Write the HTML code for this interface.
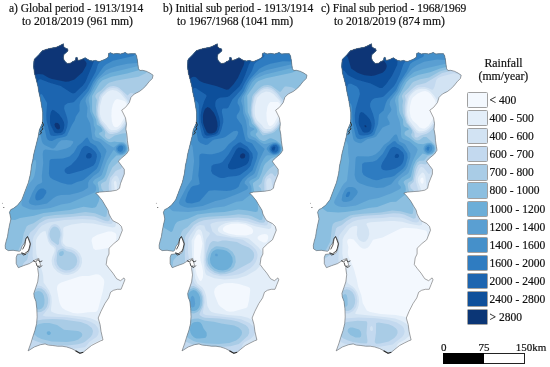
<!DOCTYPE html>
<html><head><meta charset="utf-8">
<style>
html,body{margin:0;padding:0;background:#fff;}
body{width:550px;height:367px;position:relative;overflow:hidden;font-family:"Liberation Serif",serif;color:#111;-webkit-text-stroke:0.2px #111;}
.t{position:absolute;font-size:11.8px;line-height:12px;white-space:nowrap;transform-origin:0 0;}
.lg{position:absolute;left:466.5px;width:21px;height:16.2px;border:1px solid #a0a0a0;border-radius:1.5px;box-sizing:border-box;}
.ll{position:absolute;left:489.6px;font-size:11.5px;line-height:14px;white-space:nowrap;transform-origin:0 0;}
.sb{position:absolute;font-size:11px;line-height:11px;white-space:nowrap;}
svg{position:absolute;left:0;top:0;}
</style></head><body>
<svg width="550" height="367" viewBox="0 0 550 367"><defs><path id="pt" d="M34.0,60.0 34.6,59.1 39.1,54.6 42.3,50.8 46.7,49.2 50.5,48.3 55.0,47.6 58.2,46.4 62.0,44.5 63.3,43.8 63.9,47.0 65.8,48.3 67.7,48.9 68.1,50.8 65.8,52.7 63.9,54.6 63.3,57.8 64.5,61.0 67.1,63.5 70.3,63.2 72.8,61.6 75.4,60.4 76.0,57.2 77.3,57.8 77.9,60.4 81.1,59.7 85.1,57.8 89.5,60.4 92.7,61.0 95.3,60.4 99.1,61.6 102.3,60.4 105.5,59.1 108.3,57.2 108.6,53.4 110.5,52.7 113.1,54.0 116.9,53.4 120.7,54.0 125.2,52.5 127.7,54.0 130.9,53.7 135.4,53.7 136.6,55.9 137.3,59.7 137.9,64.2 138.5,68.6 139.8,70.5 142.4,70.3 146.2,71.2 150.0,73.1 153.1,75.2 152.3,78.5 149.0,81.8 145.8,85.9 142.5,89.1 139.2,91.6 134.3,94.0 131.0,97.3 129.3,102.6 125.5,107.4 121.7,110.2 123.6,114.0 125.5,117.9 126.4,123.6 125.9,129.3 127.0,135.0 127.4,140.7 128.3,146.4 128.9,150.2 126.4,154.0 121.7,157.9 118.8,160.7 118.6,161.7 121.4,165.5 124.3,169.3 124.3,174.0 122.4,178.8 120.5,183.6 119.5,188.3 116.7,190.2 111.0,191.2 105.2,191.6 99.5,192.1 95.7,193.1 98.6,196.0 102.4,200.7 105.2,205.5 108.1,210.2 109.0,214.0 111.0,217.9 112.9,220.7 118.6,223.6 121.4,226.4 122.4,230.2 120.5,235.0 118.6,239.8 113.8,243.6 109.0,248.3 109.0,254.0 107.1,257.9 106.2,264.5 109.0,268.3 112.9,273.1 116.7,278.8 120.5,280.7 124.0,277.9 124.9,279.8 123.0,284.5 121.1,289.3 117.3,289.3 113.5,290.3 110.6,292.2 108.7,297.9 104.9,303.6 101.0,311.3 98.2,318.0 100.1,324.6 101.0,331.3 103.0,340.0 100.7,340.8 96.1,343.1 91.5,345.5 86.8,349.3 83.0,352.4 79.9,353.2 76.0,350.9 71.4,348.5 66.7,347.0 62.1,346.2 57.5,346.2 52.8,345.5 48.2,345.1 45.1,343.9 40.5,344.7 34.3,347.0 28.1,350.9 30.9,343.1 32.6,337.4 34.9,330.6 36.6,323.7 37.1,316.9 36.8,308.4 35.9,301.3 34.2,296.9 33.8,293.4 35.9,287.2 37.7,281.9 38.6,274.8 37.7,268.6 38.1,265.9 40.9,265.9 39.5,261.8 38.8,258.4 35.4,259.7 32.6,261.6 29.5,263.6 23.4,265.7 18.3,267.7 16.2,263.6 16.2,257.5 17.3,254.4 20.5,254.0 22.4,253.6 25.4,254.4 28.2,252.5 29.5,249.3 30.5,243.2 29.0,239.0 27.5,237.0 25.5,239.5 24.4,243.2 22.0,246.5 21.3,248.5 20.5,250.5 19.3,251.3 13.2,250.3 8.2,250.6 5.4,248.8 5.2,245.4 6.1,241.3 7.5,236.6 8.2,231.8 9.5,225.0 10.9,219.0 9.5,212.2 10.9,209.5 13.1,208.6 17.5,205.3 21.8,199.8 25.1,191.1 28.4,182.4 30.5,173.6 31.6,164.9 32.7,160.5 33.8,154.0 36.0,145.3 38.2,136.5 39.3,130.0 42.3,123.3 42.7,118.9 42.7,112.4 41.6,105.8 40.5,99.3 39.0,92.7 37.9,86.2 36.2,79.6 34.4,73.1 33.6,66.5Z"/><g id="mk" fill="none" stroke="#2a2a2a" stroke-width="0.8" stroke-linejoin="round"><path d="M27.5,236.4 L30.3,244 L29.2,248.4 L28.1,251.1 L24.3,253.8 L21.5,252.7 M22.6,249.4 L24.8,245.1 L25.4,241.8 L25.9,238.5 L27.5,236.4"/><path d="M21.5,253.2 L23.5,255 L26,254.2 M33,260.5 L35.5,262 L38,259.5 L40,262 L42.3,260.8 M36,262.5 L37,266 L40,267.5 L42,265.5"/><path d="M42.3,122 L43.5,125 L42,127.5 L43,129 L40.5,131 L41.5,133 L39.5,134.5" stroke-width="0.9"/><path d="M75.5,350.8 L79.9,353.2 L83.2,352.3" stroke-width="1.1"/><circle cx="2.4" cy="203.3" r="0.45" fill="#666" stroke="none"/><circle cx="3.8" cy="207.5" r="0.6" fill="#444" stroke="none"/></g><clipPath id="cp0"><use href="#pt" x="0"/></clipPath><clipPath id="cp1"><use href="#pt" x="153.9"/></clipPath><clipPath id="cp2"><use href="#pt" x="308.1"/></clipPath><filter id="bl" x="-5%" y="-5%" width="110%" height="110%"><feGaussianBlur stdDeviation="0.35"/></filter></defs><g filter="url(#bl)"><use href="#pt" x="0" fill="#f3f8fe"/><g clip-path="url(#cp0)"><path fill="#e3eef9" d="M160.0,357.0 -2.0,357.0 -2.0,37.9 160.1,38.0 160.0,191.5 151.0,191.5 150.5,191.0 148.5,191.0 148.0,190.5 146.0,190.5 145.5,190.0 140.5,189.0 140.0,193.5 139.5,194.0 139.5,197.0 140.5,197.0 142.0,198.0 145.5,198.0 146.0,197.5 160.0,197.5 160.0,357.0ZM117.6,127.0 120.5,124.3 125.0,116.7 126.5,111.9 127.0,107.0 126.5,103.7 125.0,101.6 123.0,100.5 117.0,99.1 114.8,100.5 112.8,104.5 111.7,109.5 111.4,116.0 111.9,121.5 113.2,125.5 115.0,127.2 117.6,127.0ZM99.8,249.5 112.0,247.3 114.0,246.0 115.3,243.0 116.4,237.5 116.3,234.5 115.4,233.0 111.8,231.5 108.1,231.5 97.5,234.7 92.7,237.5 91.8,239.0 91.6,241.0 93.3,248.5 95.5,249.9 99.8,249.5ZM83.2,313.0 88.0,312.2 95.4,312.0 97.0,311.2 98.0,309.5 103.0,290.5 104.3,282.5 104.0,280.0 103.2,278.5 100.5,275.6 98.5,274.4 96.0,274.3 89.0,276.1 82.5,276.0 79.5,276.6 61.2,282.5 58.7,284.0 57.3,286.0 56.9,289.0 59.2,301.5 60.5,305.3 62.3,308.0 65.4,310.0 73.0,313.0 77.5,313.4 83.2,313.0Z"/><path fill="#d2e3f3" d="M92.0,357.0 -2.0,357.0 -2.0,37.9 160.1,38.0 160.0,184.1 136.0,179.3 134.0,179.2 132.5,180.0 131.3,183.0 127.6,200.0 128.8,202.0 134.5,205.1 135.5,206.5 135.6,208.0 134.1,210.5 130.5,213.4 128.0,214.6 125.5,215.1 124.5,214.5 123.8,213.0 123.0,206.3 120.0,207.2 118.8,205.0 117.6,198.5 116.5,182.5 115.5,180.8 114.5,180.9 113.8,183.0 114.5,187.0 115.9,222.5 115.7,225.5 115.0,226.9 112.5,227.4 93.0,223.5 82.5,223.1 71.6,224.5 65.5,226.4 63.6,227.5 63.2,229.0 63.4,235.5 62.5,241.0 63.0,243.2 66.0,246.3 72.0,247.5 76.5,249.9 79.9,253.5 81.8,258.0 82.1,262.5 80.7,267.0 77.5,271.0 73.5,273.6 68.0,274.9 62.5,274.4 57.5,272.0 53.7,268.0 52.1,264.5 51.6,260.5 52.2,257.0 54.5,251.5 54.7,249.0 53.9,247.5 50.1,244.5 48.2,241.5 45.5,231.1 43.0,231.4 40.5,233.2 37.5,236.9 36.1,240.0 35.8,244.0 36.4,254.0 42.4,272.0 43.2,276.0 43.6,282.5 49.1,290.5 51.4,296.5 51.8,302.0 50.9,310.0 51.3,311.5 54.4,313.0 58.0,313.9 84.5,316.9 90.5,318.2 95.0,319.9 98.6,322.0 102.7,325.0 105.0,328.0 105.7,332.5 104.1,336.5 100.0,340.0 92.0,343.9 90.5,345.5 90.2,348.5 92.0,357.0ZM116.2,130.0 118.5,129.0 120.8,127.0 125.5,120.1 127.6,113.0 128.1,105.0 126.7,101.0 120.6,93.5 116.5,90.7 112.5,90.0 110.0,90.6 107.2,92.0 102.4,97.0 100.0,106.0 99.8,113.0 100.5,116.8 102.0,120.4 106.6,125.5 109.1,129.0 111.5,130.3 116.2,130.0Z"/><path fill="#c3d9ef" d="M34.0,357.0 -2.0,357.0 -2.1,38.0 160.0,37.9 160.0,182.6 137.5,178.0 133.0,176.5 131.8,174.0 132.6,162.5 132.0,159.5 130.0,162.9 123.5,181.5 121.5,185.4 120.5,185.0 118.6,178.0 117.0,175.8 115.5,175.8 114.0,176.7 111.7,180.0 111.3,182.5 111.7,196.5 112.9,220.0 112.7,222.5 112.0,223.7 110.0,224.1 103.5,223.1 95.0,220.1 91.0,219.5 82.5,219.1 64.5,220.0 48.5,222.5 42.0,225.5 39.0,228.4 33.7,236.5 32.7,240.0 32.6,256.0 35.1,267.5 33.1,273.5 34.0,282.5 35.0,284.7 41.5,286.2 46.0,289.4 49.0,294.5 50.0,300.0 49.7,304.5 48.5,308.0 42.6,315.5 45.5,316.4 66.5,317.2 85.5,319.9 91.0,322.0 95.2,324.5 98.0,328.0 98.9,331.5 98.2,334.5 96.5,337.0 89.5,341.8 86.0,346.3 84.5,347.2 76.0,348.6 66.5,349.2 44.0,348.0 40.2,349.5 35.1,353.0 34.2,354.0 34.0,357.0ZM114.7,132.0 117.5,131.2 120.0,129.7 123.1,126.5 125.5,123.0 128.3,115.0 129.4,104.5 128.4,101.0 121.7,92.0 117.0,88.6 112.5,87.9 109.5,88.5 106.8,90.0 103.5,92.9 101.1,96.0 98.7,105.0 98.3,112.0 99.0,116.5 100.6,121.0 107.5,130.1 110.5,132.2 114.7,132.0ZM129.0,212.1 127.0,211.7 126.5,208.5 127.2,205.5 128.0,204.7 129.5,204.3 132.7,205.5 133.9,207.5 132.5,209.9 129.0,212.1ZM70.0,272.6 65.0,272.8 60.5,271.3 56.9,268.5 54.6,264.5 54.0,259.5 55.5,254.2 56.3,248.0 55.0,246.1 51.9,244.0 50.0,241.8 48.5,238.5 48.0,235.0 48.3,231.5 49.3,228.5 51.0,225.8 53.0,224.4 55.0,224.1 57.5,225.1 59.5,227.1 60.9,229.5 61.9,234.0 61.0,241.5 61.7,245.5 66.0,248.5 71.0,249.4 74.3,251.0 77.1,253.5 79.2,257.0 79.8,262.0 78.4,266.5 75.0,270.3 70.0,272.6ZM14.7,309.0 15.9,307.0 20.5,303.1 22.2,300.5 22.5,298.5 22.0,295.5 21.0,293.5 20.0,292.9 18.0,293.1 16.0,294.5 13.4,298.5 12.0,305.4 11.0,307.5 14.5,309.5 14.7,309.0Z"/><path fill="#a9cce6" d="M0.0,298.0 -2.0,298.3 -2.1,38.0 160.0,38.0 160.0,107.8 157.5,106.8 148.5,100.6 146.0,100.3 144.5,101.4 138.5,117.5 130.1,143.0 129.6,149.5 128.8,152.5 125.5,157.5 121.5,168.0 120.5,169.0 117.5,170.0 115.5,171.2 110.0,178.0 108.7,185.5 110.2,216.5 109.6,220.5 108.0,221.3 105.5,221.1 94.5,216.6 83.5,215.7 49.0,218.7 45.5,219.7 39.5,223.2 34.0,229.3 30.2,232.5 28.6,235.5 28.2,238.5 28.9,246.5 28.0,256.4 27.0,259.9 23.8,263.0 22.7,265.0 22.3,280.5 21.5,287.9 16.5,290.6 10.3,295.0 0.0,298.0ZM112.5,134.0 117.0,132.9 119.5,131.7 122.7,129.0 125.2,126.0 128.2,120.0 131.0,110.2 135.6,102.5 137.4,97.0 136.5,94.7 132.0,93.0 130.0,93.3 127.5,95.5 119.0,87.7 116.0,86.4 113.5,86.0 110.0,86.6 107.0,88.0 100.3,94.5 99.0,97.5 97.2,110.0 97.8,116.0 100.4,123.0 108.0,133.0 110.0,134.1 112.5,134.0ZM160.0,180.8 137.5,176.1 136.0,175.5 135.0,174.2 136.4,161.5 136.2,155.0 137.2,148.0 140.8,124.5 141.7,122.5 143.0,121.6 145.0,121.7 160.0,126.1 160.0,180.8ZM130.5,209.6 129.0,209.8 128.4,209.0 128.5,207.0 129.5,206.0 131.0,206.1 132.0,207.0 131.8,208.5 130.5,209.6ZM57.5,245.0 51.5,240.4 49.7,236.5 49.5,233.5 50.4,230.0 52.0,227.7 54.0,226.6 56.0,226.7 58.0,228.0 59.4,230.0 60.3,232.5 60.4,235.5 59.2,240.0 59.1,243.5 58.5,244.5 57.5,245.0ZM70.0,270.0 66.0,270.4 62.5,269.6 59.4,267.5 57.3,264.5 56.5,261.0 57.2,252.5 58.2,250.5 60.5,249.0 63.0,248.5 66.5,251.0 72.0,252.5 74.7,254.5 76.5,257.2 77.3,261.0 76.3,265.0 73.9,268.0 70.0,270.0ZM41.0,312.1 37.5,312.3 33.9,310.5 31.2,307.0 29.6,302.0 29.6,297.0 31.1,293.0 34.0,289.7 38.0,288.1 41.5,288.6 44.5,290.7 47.0,294.5 48.1,298.5 48.1,303.0 46.8,307.0 44.5,310.0 41.0,312.1ZM67.5,345.5 51.0,344.7 41.5,343.1 35.5,341.1 30.5,338.4 26.9,335.0 25.5,331.5 26.2,328.0 29.4,323.5 34.4,321.0 42.5,319.6 52.5,319.1 63.0,319.5 80.7,322.0 87.4,324.5 91.9,328.0 93.0,331.0 92.3,334.5 90.6,337.0 85.0,341.8 82.5,343.1 78.0,344.3 67.5,345.5Z"/><path fill="#8cbfe0" d="M-1.5,259.0 -2.0,259.1 -2.1,38.0 160.0,38.0 160.0,57.5 156.6,59.5 150.9,65.0 149.0,67.5 146.2,73.0 138.5,76.7 116.8,80.5 109.7,82.5 107.3,84.0 101.0,90.6 97.0,93.2 95.4,95.5 95.4,97.0 96.9,100.0 96.0,106.5 96.2,114.5 99.0,123.0 103.2,128.0 104.8,131.0 105.4,133.0 104.8,135.5 105.4,137.0 107.5,138.8 109.5,139.0 114.7,135.5 122.5,133.4 126.0,133.2 126.3,135.0 125.6,141.0 127.9,145.5 128.4,148.0 128.1,151.0 126.7,153.5 124.5,155.4 120.6,157.5 118.0,162.2 112.4,167.5 106.0,181.0 102.0,183.1 100.9,184.5 101.5,188.6 105.0,193.3 105.9,196.5 107.1,211.5 106.5,216.5 104.5,217.0 95.0,213.3 85.5,212.1 72.0,214.0 55.0,214.9 43.5,216.7 33.5,223.2 28.5,225.1 26.6,226.5 23.7,233.5 22.0,242.5 18.5,249.9 15.9,252.0 14.0,254.3 -1.5,259.0ZM160.0,160.2 141.5,158.2 140.0,157.8 138.9,156.5 139.0,151.3 140.5,145.3 142.5,142.7 149.5,136.5 150.0,135.0 151.0,135.5 160.0,135.5 160.0,160.2ZM62.0,256.0 60.0,256.0 59.2,255.0 58.9,253.5 60.0,251.8 62.5,250.9 63.5,251.5 63.9,253.0 63.5,254.6 62.0,256.0ZM39.5,309.5 36.5,309.2 34.3,307.5 32.5,304.6 31.7,301.0 31.9,297.5 33.0,294.5 35.2,292.0 38.0,290.9 40.5,291.4 42.4,293.0 43.7,295.5 44.5,299.5 44.4,303.5 43.5,306.4 41.7,308.5 39.5,309.5ZM67.0,342.0 51.5,341.5 41.5,339.1 37.3,337.0 34.3,334.5 33.0,332.0 33.1,329.0 35.5,326.0 39.0,324.1 44.0,323.1 49.5,323.1 57.1,325.0 64.0,329.7 78.0,330.9 80.5,331.9 82.0,333.5 82.3,335.0 81.8,336.5 78.4,339.5 74.2,341.0 67.0,342.0Z"/><path fill="#6caed8" d="M15.0,220.1 7.5,219.5 -2.0,216.1 -2.1,38.0 160.0,38.0 160.0,53.6 157.1,55.0 146.7,63.0 140.5,69.8 127.0,73.5 111.5,76.7 102.5,80.2 99.5,83.3 92.1,96.0 92.1,109.0 92.5,112.0 96.2,119.5 96.8,124.5 100.7,127.0 102.6,130.0 102.2,131.5 99.1,133.0 99.4,134.5 105.5,140.1 109.0,142.1 111.0,142.3 114.5,141.4 117.0,142.1 121.5,141.9 124.0,142.6 126.5,145.0 127.6,148.5 126.9,151.5 125.0,153.9 122.0,155.3 116.4,155.5 111.5,160.5 108.7,165.0 106.0,174.0 104.4,177.5 103.0,179.0 98.0,182.0 97.7,183.5 98.9,188.5 99.6,197.0 98.7,201.5 96.3,206.5 95.0,207.5 92.0,208.0 83.5,206.8 70.0,210.1 43.5,213.1 34.0,215.7 20.0,217.9 15.0,220.1ZM49.5,335.1 48.0,335.0 46.7,333.5 46.9,332.0 48.0,331.2 49.5,331.2 50.8,332.5 50.7,334.0 49.5,335.1Z"/><path fill="#5a9fd2" d="M39.0,209.5 33.0,209.8 29.5,209.2 22.9,206.5 21.9,205.5 21.4,204.0 21.9,201.0 27.8,186.5 29.7,183.0 33.3,178.5 34.5,175.5 36.0,167.0 36.1,162.0 35.5,159.7 34.5,159.9 33.0,162.3 22.1,187.5 19.5,192.5 17.5,194.9 15.5,195.7 11.5,195.2 7.0,195.6 1.5,192.7 -2.0,192.0 -2.0,183.8 0.1,182.0 3.5,180.8 12.5,181.0 14.7,179.5 15.5,176.9 17.9,157.5 17.0,153.1 14.2,147.0 13.5,144.1 12.5,143.0 11.0,143.0 7.5,141.5 -2.0,141.5 -2.0,38.0 160.0,38.0 160.0,52.1 157.5,53.1 148.0,60.2 138.3,66.0 110.5,72.8 104.5,75.4 100.1,78.5 98.0,80.8 89.0,97.5 88.7,100.5 89.8,106.0 90.1,111.5 93.4,119.5 93.9,125.5 95.5,129.0 94.6,133.5 95.5,136.5 96.7,137.5 101.0,139.0 107.5,144.1 113.5,147.4 119.0,143.5 121.5,143.1 124.0,143.8 125.8,145.5 126.6,147.5 126.6,150.0 125.6,152.0 123.1,154.0 120.0,154.4 117.0,153.2 114.0,150.1 113.0,150.7 107.0,160.4 101.7,175.0 100.1,176.5 95.0,179.2 93.1,181.5 93.1,183.0 95.5,185.5 96.2,187.5 96.0,190.4 94.5,192.4 70.0,203.0 61.0,204.5 50.5,208.0 39.0,209.5Z"/><path fill="#4590ca" d="M39.5,205.0 35.5,205.4 32.0,204.8 29.5,203.4 28.7,201.5 32.2,193.0 35.5,186.9 37.5,184.7 41.4,183.0 42.2,182.0 41.8,176.0 43.2,163.0 42.7,154.0 43.2,151.0 44.0,150.0 45.5,149.4 57.0,150.8 66.5,148.6 70.5,146.4 73.0,143.0 73.3,141.5 72.0,140.7 66.5,140.0 61.5,140.3 58.9,142.0 55.0,147.5 53.5,148.5 52.0,148.6 45.0,145.2 42.9,143.5 41.8,141.0 40.0,132.5 39.5,131.4 38.5,131.2 36.0,135.7 25.0,163.7 23.0,167.4 22.0,168.1 21.5,167.6 21.1,164.0 21.5,154.5 23.4,137.0 22.8,131.0 21.5,129.8 12.5,126.2 -2.0,124.0 -2.0,38.0 160.0,38.0 160.0,50.6 157.0,51.7 147.9,58.5 142.9,61.0 137.0,62.9 127.5,63.7 117.0,66.1 111.0,68.0 106.0,70.3 96.7,79.5 93.3,85.0 90.6,91.5 86.4,97.5 85.4,101.0 87.5,107.7 86.8,116.5 90.2,123.5 92.3,138.5 94.0,140.3 98.5,141.6 100.5,142.8 106.0,149.5 106.5,151.5 100.0,170.5 98.5,172.5 93.5,175.9 89.2,180.5 88.1,183.0 88.2,187.0 87.7,188.0 83.0,191.0 78.0,192.8 69.5,194.7 61.0,195.0 57.0,195.9 53.5,197.9 47.0,203.4 39.5,205.0ZM122.5,153.2 120.5,153.5 118.7,153.0 117.0,151.6 116.2,150.0 116.1,148.0 116.7,146.5 119.5,144.4 123.0,144.4 124.5,145.5 125.3,147.0 125.6,149.0 125.0,150.9 122.5,153.2Z"/><path fill="#2f7cc1" d="M27.0,141.6 26.5,141.4 26.2,140.0 25.6,130.0 22.2,125.5 25.0,122.1 26.0,119.5 26.9,112.0 26.0,109.2 23.0,108.8 -2.0,112.7 -2.0,38.0 144.0,38.0 142.4,42.0 135.2,54.0 133.5,56.0 113.0,60.8 106.0,64.5 103.7,66.5 93.2,81.5 88.9,90.5 80.6,101.0 79.5,105.0 79.6,111.0 75.9,116.5 74.7,120.5 72.0,124.8 67.0,135.5 65.0,136.7 57.0,138.4 52.0,141.0 49.5,140.7 47.5,139.5 46.5,137.5 44.0,125.5 42.8,111.0 42.0,108.9 41.0,108.5 39.0,111.3 31.0,133.7 28.5,139.5 27.0,141.6ZM71.5,184.6 67.5,184.5 61.0,182.8 53.1,179.5 50.5,177.7 49.4,176.0 48.9,173.5 49.5,160.8 50.3,159.5 51.5,159.0 63.0,158.6 69.5,156.6 73.9,152.5 77.6,146.0 82.0,142.4 86.0,137.9 87.5,137.4 90.2,142.5 96.0,145.9 100.7,153.5 101.2,156.5 99.6,162.0 98.0,166.5 96.5,168.9 84.5,179.3 82.5,180.6 77.0,182.1 71.5,184.6ZM120.5,152.0 118.1,151.0 117.3,148.5 118.9,146.0 121.5,145.4 123.0,146.4 123.4,148.0 122.4,151.0 120.5,152.0ZM40.0,200.1 37.0,200.4 35.6,199.5 35.2,197.5 35.5,195.0 37.0,191.8 39.0,189.4 41.0,188.4 43.5,188.5 46.2,190.5 46.3,193.0 43.2,198.0 40.0,200.1Z"/><path fill="#1d65b0" d="M54.0,136.0 51.0,135.6 49.9,134.0 46.5,120.5 46.2,115.5 47.1,103.0 42.0,94.2 40.5,94.2 39.0,96.5 33.5,111.8 31.0,116.3 30.5,116.2 30.2,115.0 29.4,106.0 30.1,95.0 29.5,93.0 28.5,92.0 26.0,91.5 20.5,91.6 -2.0,94.8 -2.0,38.0 94.1,38.0 95.5,52.1 97.0,53.6 103.3,56.0 104.0,57.0 103.8,58.0 98.1,64.0 95.6,72.0 86.5,88.8 74.0,101.9 72.5,102.5 67.5,103.2 64.5,105.5 64.1,108.5 67.1,117.5 67.9,122.0 67.2,127.0 65.0,133.0 62.0,135.0 54.0,136.0ZM69.5,174.0 67.5,173.9 65.5,172.8 64.5,171.1 64.7,169.5 65.9,168.0 71.0,165.1 76.5,159.2 78.6,156.0 81.6,149.0 83.5,146.7 85.5,145.7 87.5,146.1 91.5,148.3 95.5,152.0 96.8,154.5 96.9,157.0 95.5,162.5 93.5,165.4 89.5,167.6 82.1,170.5 69.5,174.0Z"/><path fill="#0f509b" d="M75.0,93.1 73.0,93.4 71.0,92.7 60.7,86.0 49.5,82.8 40.5,79.2 39.0,79.5 38.0,80.8 36.0,88.3 34.5,91.0 33.8,90.5 33.2,88.5 32.7,82.5 32.0,81.6 31.0,81.3 7.5,90.0 -2.0,92.6 -2.0,38.0 91.7,38.0 92.9,56.0 94.3,59.5 94.1,61.0 85.5,82.1 82.9,85.5 75.0,93.1ZM60.5,133.0 57.0,133.3 54.3,132.5 50.5,125.0 49.9,122.0 50.1,115.0 51.1,111.5 52.5,109.8 54.5,110.4 59.0,114.3 62.0,118.2 63.9,122.0 64.4,125.0 63.8,129.0 62.5,131.8 60.5,133.0ZM90.0,158.6 87.5,158.6 86.0,157.3 86.2,155.0 88.0,152.9 90.2,153.0 91.8,154.5 91.6,157.0 90.0,158.6Z"/><path fill="#0b3676" d="M-1.5,88.6 -2.0,88.6 -2.0,38.0 86.5,38.0 85.5,47.0 82.0,51.5 80.7,55.0 81.6,57.0 86.1,62.0 86.6,63.5 86.3,65.5 82.5,72.3 74.5,79.4 69.0,81.5 65.5,81.7 51.9,79.0 48.5,77.7 43.0,74.4 38.5,74.1 29.0,76.7 -1.5,88.6ZM59.0,129.6 57.0,129.2 55.0,126.8 54.4,124.5 55.5,122.8 58.0,123.1 59.7,125.0 60.2,128.0 59.0,129.6Z"/></g><use href="#pt" x="0" fill="none" stroke="#6a6a6a" stroke-width="0.6"/><use href="#mk" x="0"/><use href="#pt" x="153.9" fill="#f3f8fe"/><g clip-path="url(#cp1)"><path fill="#e3eef9" d="M313.9,357.0 151.9,357.0 151.9,37.9 314.0,38.0 313.9,357.0ZM270.7,126.0 272.4,125.1 274.4,122.8 279.4,113.2 280.3,109.0 280.3,105.5 279.4,103.1 277.9,102.0 270.4,102.1 268.9,103.5 267.4,106.8 266.4,113.5 266.8,120.5 268.4,125.0 269.4,125.8 270.7,126.0ZM246.2,235.5 251.7,234.0 252.9,232.6 253.2,231.0 252.5,229.0 251.2,227.5 245.4,224.6 238.4,223.4 231.4,223.8 226.0,225.5 223.9,227.0 222.9,228.5 222.9,230.0 223.9,231.4 228.2,233.5 236.9,235.2 246.2,235.5ZM201.6,280.5 202.9,277.5 203.2,273.0 202.4,267.5 200.6,261.0 200.2,257.0 202.4,243.5 200.9,236.3 199.9,234.7 198.9,234.2 197.9,234.5 196.4,235.9 194.3,240.5 193.8,256.0 195.4,268.4 196.9,275.1 199.4,280.3 200.4,280.9 201.6,280.5ZM266.1,242.5 267.4,240.8 268.2,238.0 268.1,236.0 267.0,234.5 264.9,234.0 261.9,234.5 259.3,235.5 257.6,237.0 257.7,239.0 259.4,240.5 263.4,242.5 266.1,242.5ZM233.6,311.5 245.9,308.0 247.4,306.9 249.1,300.0 250.2,290.5 249.9,288.0 248.4,286.9 238.9,284.1 232.4,283.0 224.4,283.3 217.9,285.5 214.9,288.5 214.1,292.0 214.8,295.5 218.5,304.5 220.3,306.5 226.5,311.0 229.9,311.8 233.6,311.5Z"/><path fill="#d2e3f3" d="M247.9,357.0 151.9,357.0 151.9,37.9 314.0,38.0 313.9,184.9 290.4,180.1 288.4,180.2 287.4,180.9 286.4,183.6 283.5,200.0 284.5,202.0 289.8,205.5 290.4,207.0 290.4,208.5 288.2,211.5 280.4,217.5 277.4,228.8 275.9,231.8 275.1,229.5 274.4,221.5 273.9,220.1 272.9,219.4 272.2,221.0 271.2,227.5 270.4,228.5 268.9,229.0 255.9,226.4 245.9,222.9 237.4,221.8 231.4,222.1 225.4,223.2 221.4,224.9 218.8,227.0 217.8,229.0 218.1,231.0 219.5,232.5 222.5,234.0 231.4,236.4 245.4,237.7 248.9,238.7 258.2,247.0 261.5,251.0 262.6,254.0 262.6,258.0 261.7,262.0 259.9,266.0 255.9,270.3 246.4,275.8 237.4,278.4 224.4,279.4 214.4,278.3 206.9,275.2 205.9,274.3 205.0,272.0 203.5,262.5 203.9,245.0 203.4,238.5 201.9,232.1 200.4,229.7 198.4,229.3 196.4,230.9 191.5,240.5 192.1,256.0 195.2,278.5 197.4,283.5 202.4,287.5 204.6,291.0 206.2,296.0 207.4,305.9 209.8,310.5 211.6,312.0 214.9,313.0 227.4,315.0 240.9,316.1 247.9,317.7 257.4,322.4 260.8,325.0 262.7,327.5 263.6,330.0 264.0,334.0 263.6,336.0 262.6,337.5 257.4,341.6 247.5,346.0 246.5,347.0 246.4,349.0 247.9,357.0ZM270.8,129.0 274.7,126.0 279.4,118.7 281.3,111.5 281.6,105.0 279.9,101.0 273.4,94.1 269.9,91.9 265.9,91.5 261.2,93.5 256.9,98.0 254.8,106.5 254.7,113.5 255.4,116.9 256.8,120.0 261.8,125.0 263.9,128.1 265.9,129.0 270.8,129.0Z"/><path fill="#c3d9ef" d="M243.4,357.0 151.9,357.0 151.9,37.9 314.0,38.0 313.9,183.3 289.4,178.3 283.4,177.7 281.4,180.3 276.4,192.9 274.9,195.1 273.9,194.3 273.4,192.8 271.3,179.5 269.9,177.9 267.9,178.5 266.8,180.0 266.2,182.5 268.1,221.0 267.8,224.0 266.9,225.3 264.9,225.4 255.9,223.9 246.4,220.9 237.4,220.1 217.4,221.8 212.4,222.9 210.6,224.0 210.4,225.0 212.4,231.5 216.9,235.6 242.9,239.7 251.9,245.7 255.7,249.5 257.0,252.0 257.6,255.0 257.1,258.5 255.7,262.0 253.7,265.0 250.7,268.0 243.4,272.6 238.9,274.2 232.1,275.5 225.9,276.3 220.9,276.3 213.4,274.4 209.9,272.4 206.9,269.9 205.4,266.8 204.6,261.0 205.5,243.0 206.4,239.1 209.3,235.0 209.9,233.0 205.9,230.2 204.3,225.5 199.9,225.0 196.4,226.6 190.0,235.5 188.2,239.5 188.0,253.0 188.9,257.9 191.4,265.5 192.2,278.5 194.6,283.5 202.0,290.5 204.3,296.5 204.7,302.5 202.9,312.0 203.4,314.0 205.9,315.1 232.4,317.7 240.9,319.2 249.5,323.0 252.3,325.5 254.4,328.5 255.0,332.5 253.5,336.0 250.4,339.0 244.2,342.5 242.4,345.0 241.9,348.5 243.4,357.0ZM266.5,131.5 269.9,131.0 272.4,130.0 275.3,127.5 278.1,124.0 281.4,116.4 282.7,107.0 281.9,102.0 276.9,94.5 271.9,90.1 267.4,88.7 264.4,89.1 261.4,90.4 255.9,95.8 254.8,98.0 253.4,104.0 252.7,110.0 253.3,116.0 255.4,121.4 262.8,130.5 264.4,131.3 266.5,131.5ZM282.9,213.0 280.4,213.0 279.4,210.5 280.2,205.0 280.9,204.0 282.4,203.5 286.9,205.0 288.1,206.0 288.6,207.5 287.2,210.0 282.9,213.0ZM173.9,299.5 174.9,298.0 174.7,296.0 173.9,294.6 172.4,294.3 170.6,295.5 169.9,297.5 171.4,299.1 173.9,299.5Z"/><path fill="#a9cce6" d="M219.4,347.0 209.9,346.7 193.9,345.0 183.4,340.8 179.9,338.5 177.3,336.0 175.5,332.0 175.5,329.5 176.3,327.5 181.9,320.7 187.3,318.0 188.6,315.5 187.8,313.5 181.9,306.3 179.4,304.3 178.1,297.0 176.8,293.5 175.6,292.0 173.9,291.4 172.4,291.7 164.4,297.6 151.9,300.8 151.8,38.0 313.9,38.0 313.9,181.9 290.9,177.1 287.7,175.5 287.2,173.0 290.2,142.0 289.9,138.7 288.9,139.7 286.9,144.5 277.9,171.4 275.9,176.0 274.9,176.5 272.4,173.6 270.4,173.4 266.4,176.4 264.7,179.5 264.3,183.0 264.5,197.5 265.6,218.5 264.9,222.1 263.4,222.8 259.4,222.4 248.4,218.4 238.4,217.5 215.4,218.8 203.9,220.3 198.9,221.9 193.9,225.0 186.1,235.0 185.1,237.0 184.8,255.5 185.2,264.0 184.7,265.5 182.5,268.5 182.1,270.5 183.5,288.0 183.9,289.1 184.9,289.2 190.9,286.3 193.9,285.9 198.2,288.5 201.3,292.0 203.1,297.0 203.4,302.5 202.5,307.5 199.6,313.5 199.5,315.0 202.4,316.9 204.9,317.8 218.9,318.6 231.0,320.0 237.9,321.4 245.6,325.0 247.7,327.0 249.1,329.5 249.2,333.0 247.8,336.0 238.9,344.1 230.4,346.2 219.4,347.0ZM267.0,133.0 270.9,132.1 273.4,130.8 276.9,127.6 279.4,124.1 282.2,117.5 284.4,104.8 285.9,101.0 285.4,100.0 283.4,100.1 282.4,99.4 277.9,93.5 273.8,89.5 270.9,87.8 267.4,87.0 263.9,87.5 260.9,89.0 254.9,95.0 253.7,97.5 252.3,104.0 251.7,110.5 252.4,116.5 254.9,122.8 262.4,132.2 264.4,133.1 267.0,133.0ZM283.4,211.1 282.4,211.2 281.6,210.5 281.2,208.0 281.9,205.9 283.9,205.1 286.2,206.0 287.1,207.5 285.9,209.5 283.4,211.1ZM226.4,274.1 220.4,274.4 214.9,273.0 209.9,269.8 206.7,265.5 205.7,260.0 206.4,253.6 209.4,244.4 210.8,242.5 212.4,241.3 213.9,240.9 217.9,241.7 222.4,240.6 225.9,240.4 236.9,241.9 242.6,245.0 248.9,247.5 252.0,250.0 253.7,252.5 254.2,255.0 253.8,258.0 252.4,260.5 250.4,262.5 232.6,272.0 226.4,274.1Z"/><path fill="#8cbfe0" d="M171.4,270.4 169.9,268.9 166.8,260.0 165.4,258.8 163.4,258.8 151.9,261.7 151.8,38.0 313.9,38.0 313.9,105.1 310.9,103.5 302.9,97.5 301.9,96.0 301.2,91.0 300.4,89.6 297.4,89.9 291.9,87.2 286.9,86.4 284.9,86.6 283.9,87.4 280.9,91.5 279.9,92.1 271.4,85.8 267.9,85.1 263.9,85.6 261.4,86.8 258.4,89.1 253.6,94.0 252.2,96.5 250.7,107.5 251.1,115.5 253.8,123.0 257.9,128.0 261.1,133.5 262.9,135.4 271.9,133.3 274.4,131.9 277.6,129.0 281.2,124.0 284.9,115.2 290.4,105.9 293.4,101.8 293.6,102.5 291.9,110.5 282.2,142.0 283.1,148.0 282.3,152.0 280.9,154.5 277.3,158.5 273.9,165.5 269.4,168.8 267.1,171.5 263.1,177.5 261.4,183.2 258.3,186.0 260.9,188.6 261.9,192.4 262.9,215.0 262.4,219.2 261.4,220.0 259.7,220.0 251.9,216.3 248.4,215.2 238.9,214.2 228.9,215.5 208.4,216.7 200.9,217.7 197.9,218.8 191.9,222.6 187.6,227.0 183.4,229.5 181.6,232.0 180.1,237.0 180.4,245.5 178.9,252.5 177.4,256.1 174.0,259.5 173.2,261.0 172.4,267.5 171.4,270.4ZM313.9,179.2 293.4,175.0 290.9,173.5 292.3,162.5 291.0,156.0 291.4,151.7 293.8,141.0 295.9,126.4 296.5,124.5 297.4,123.4 299.9,123.5 313.9,127.5 313.9,179.2ZM284.4,208.5 283.4,208.4 283.9,207.0 284.9,207.5 284.4,208.5ZM224.4,272.6 219.4,272.5 214.4,270.7 210.4,267.6 208.0,263.5 207.4,259.0 208.6,254.5 211.1,249.5 214.9,246.7 216.9,246.3 223.4,247.0 227.9,248.4 232.4,251.8 235.2,256.5 235.8,262.0 234.0,267.0 229.9,270.7 224.4,272.6ZM193.9,313.5 190.9,312.9 187.2,309.0 185.1,305.0 184.2,300.0 184.9,295.5 186.8,292.0 190.1,289.0 193.4,287.9 196.4,288.9 199.9,292.4 201.5,296.0 202.2,300.5 201.7,305.5 200.0,309.5 197.4,312.1 193.9,313.5ZM218.9,344.0 206.4,343.4 196.4,342.1 193.4,341.1 187.3,337.5 184.4,334.9 182.8,331.5 183.3,328.0 184.6,326.0 191.4,319.6 193.9,318.7 198.4,318.5 204.9,320.8 213.9,321.8 221.4,323.6 234.2,325.5 238.6,327.5 241.4,330.2 242.1,332.5 241.5,335.0 239.3,338.0 236.1,340.5 229.3,343.0 218.9,344.0Z"/><path fill="#6caed8" d="M170.9,232.0 164.4,228.1 160.1,222.5 151.9,219.0 151.8,38.0 313.9,38.0 313.9,54.4 311.4,55.6 301.3,63.5 299.0,66.0 296.4,70.7 291.9,72.8 265.9,78.3 258.4,81.0 256.0,83.0 247.2,95.5 247.7,112.0 250.7,119.0 251.9,123.5 255.8,127.5 257.3,130.0 257.5,132.0 255.7,134.0 256.2,135.5 259.4,139.2 262.9,141.0 264.9,140.9 269.9,138.3 271.9,138.6 275.9,140.3 280.4,143.7 281.5,145.5 282.1,148.0 281.6,151.5 279.4,154.6 277.4,156.0 271.0,158.5 265.4,163.4 263.8,166.0 261.4,173.5 258.9,178.8 253.0,183.0 252.9,184.5 254.1,191.0 257.7,203.5 258.1,209.0 257.5,211.5 255.4,212.1 245.9,210.2 238.4,209.5 224.4,211.9 210.9,212.7 197.4,214.4 187.9,218.8 179.4,220.9 177.0,222.0 175.0,224.5 172.8,230.5 171.9,231.7 170.9,232.0ZM222.9,270.5 218.4,270.0 215.0,268.5 212.1,266.0 210.4,263.0 209.9,259.0 211.2,253.5 212.9,251.2 215.9,249.4 217.9,249.2 222.9,249.8 226.4,250.8 230.0,253.5 232.4,257.5 232.8,262.0 231.0,266.5 227.4,269.4 222.9,270.5ZM194.4,311.1 191.9,311.0 189.4,309.0 187.0,304.5 186.2,300.5 186.6,297.0 188.3,293.5 190.9,290.9 193.4,290.0 195.9,290.8 198.4,293.5 199.9,297.0 200.4,300.5 200.1,304.5 199.0,307.5 196.9,309.9 194.4,311.1ZM199.4,338.5 196.4,338.4 193.9,337.2 191.7,335.0 190.4,332.5 189.9,329.5 190.6,326.0 191.9,323.6 193.9,322.3 197.9,321.8 200.4,322.6 201.9,324.5 203.6,328.5 206.6,332.5 206.8,335.5 205.9,337.4 204.4,338.0 199.4,338.5Z"/><path fill="#5a9fd2" d="M188.4,212.0 173.4,211.2 171.9,210.5 168.9,207.8 163.4,206.8 154.2,202.5 151.9,201.9 151.8,38.0 313.9,38.0 313.9,52.8 310.9,54.1 292.9,67.8 264.4,74.7 255.9,78.5 252.3,82.0 244.4,96.5 244.0,99.5 244.8,110.5 245.6,113.5 248.7,119.5 249.0,125.0 250.4,127.0 253.4,128.0 254.4,129.0 254.3,129.5 250.8,131.5 250.2,133.0 250.5,135.0 251.5,136.0 255.4,138.0 260.9,142.4 263.9,143.9 265.9,144.0 272.9,142.0 276.9,142.3 280.3,145.0 281.4,148.5 280.6,152.0 277.9,154.8 273.9,155.6 267.4,155.2 265.9,156.0 263.9,158.5 261.0,164.0 256.9,176.2 255.4,177.7 250.9,180.0 249.4,181.5 249.2,182.5 251.0,186.0 251.5,188.5 251.4,192.4 250.6,194.5 242.4,201.0 236.4,201.7 224.4,206.4 213.9,207.8 204.9,210.0 188.4,212.0ZM217.4,256.2 215.9,256.3 215.1,255.5 215.1,254.5 215.9,253.6 217.5,254.0 217.8,255.5 217.4,256.2ZM192.9,307.6 191.4,307.0 190.6,306.0 189.8,302.0 190.9,297.2 191.9,295.9 192.9,295.7 194.4,298.0 195.2,303.5 194.5,306.5 192.9,307.6Z"/><path fill="#4590ca" d="M192.4,207.5 187.9,207.7 184.4,207.1 180.1,205.0 178.8,203.0 179.5,200.5 186.6,187.0 191.9,179.5 194.1,161.0 192.6,147.0 192.0,145.0 190.9,144.5 189.4,146.4 176.4,178.0 173.9,182.2 172.4,182.7 172.0,180.5 172.2,172.5 174.0,152.0 175.9,138.5 175.4,134.0 173.4,131.6 166.4,128.1 151.9,125.8 151.9,38.0 313.9,38.0 313.9,51.5 310.9,52.7 300.4,60.4 291.9,64.3 266.9,70.1 259.4,72.9 253.4,77.8 251.4,80.0 248.1,85.5 245.5,91.5 241.9,97.0 241.1,101.0 242.6,106.0 243.3,113.5 246.0,121.0 247.3,129.0 247.1,133.5 247.7,137.0 249.4,138.8 255.4,140.8 264.7,149.0 259.4,160.1 254.8,173.0 253.4,174.6 247.8,178.0 244.8,181.5 244.6,183.5 247.8,186.5 247.9,188.5 246.4,189.8 237.9,193.8 224.4,199.0 215.4,201.0 202.6,206.0 192.4,207.5ZM275.9,154.6 273.4,154.7 270.9,153.8 268.7,152.0 266.5,149.0 267.2,147.5 269.5,145.0 273.4,143.0 275.9,143.0 277.9,143.8 279.7,145.5 280.6,147.5 280.6,150.0 279.8,152.0 278.4,153.5 275.9,154.6Z"/><path fill="#2f7cc1" d="M191.9,203.5 186.9,203.0 185.5,201.5 185.4,200.0 187.9,192.5 190.9,187.5 192.9,186.0 197.9,185.1 199.7,184.0 198.3,175.5 199.3,164.5 199.3,156.0 199.9,154.2 201.9,153.4 208.4,154.3 212.4,154.2 218.4,152.8 222.4,151.0 224.9,149.0 228.9,144.0 235.1,139.0 237.7,134.5 238.3,132.0 236.9,130.8 233.4,131.2 225.3,137.0 222.6,138.0 214.4,139.4 212.4,140.5 207.9,144.6 205.4,144.9 200.4,143.0 198.0,140.5 195.2,124.5 194.4,122.2 193.4,121.9 191.1,126.0 180.4,154.0 178.4,157.5 177.4,157.5 176.9,152.0 178.3,136.0 178.2,132.0 177.7,130.0 176.4,128.9 171.8,127.0 166.9,124.1 151.9,121.9 151.9,38.0 313.9,38.0 313.9,49.7 310.9,50.7 300.2,58.5 291.5,61.5 282.9,61.2 270.4,63.7 264.9,65.8 259.4,68.7 249.6,79.5 246.1,85.5 243.9,91.1 238.0,99.5 237.5,103.0 239.4,106.5 239.9,109.5 239.3,111.5 236.7,115.5 236.7,118.0 241.9,125.2 245.4,140.0 246.4,141.2 251.4,143.0 252.6,144.0 257.4,151.9 257.8,153.5 256.9,158.5 252.4,170.5 242.7,179.0 240.6,182.0 238.4,187.0 235.4,189.0 230.9,190.5 226.5,191.0 214.9,190.3 208.9,190.7 199.4,201.5 191.9,203.5ZM276.4,153.6 274.4,153.9 272.4,153.4 270.5,152.0 269.4,150.0 269.3,148.5 270.0,146.5 271.4,145.0 273.4,144.0 275.4,143.8 277.4,144.4 278.9,145.8 279.7,147.5 279.4,151.0 278.3,152.5 276.4,153.6Z"/><path fill="#1d65b0" d="M206.9,138.6 203.7,138.0 201.9,135.1 198.8,121.5 198.9,105.0 198.2,103.0 196.4,100.9 194.4,100.3 192.9,102.1 185.4,122.8 183.4,127.0 181.9,127.9 180.7,125.5 181.9,120.5 182.6,112.0 181.6,105.0 182.5,97.0 181.8,94.5 179.9,93.7 175.4,93.5 151.9,96.2 151.9,38.0 250.1,38.0 251.9,50.0 257.0,52.5 262.9,54.1 264.6,55.5 263.9,57.0 256.4,62.0 254.4,64.0 251.9,71.0 244.7,83.0 241.9,89.0 232.4,99.5 228.4,107.6 226.9,108.6 223.4,108.4 222.2,109.0 221.8,111.5 223.3,119.0 223.3,122.0 221.6,129.0 219.6,134.0 216.9,135.8 206.9,138.6ZM223.9,178.0 221.4,178.1 218.9,177.5 212.6,174.0 211.1,171.0 211.5,166.0 213.4,164.4 219.9,163.2 222.4,161.9 228.4,154.5 233.0,147.0 238.4,142.8 240.4,142.2 247.4,146.8 252.4,153.5 252.9,157.5 250.7,165.5 247.4,169.5 239.9,175.0 236.4,176.1 228.4,176.8 223.9,178.0ZM275.9,152.5 272.8,152.5 270.6,150.0 270.9,147.0 273.4,145.0 276.4,145.0 278.4,147.5 278.1,150.5 275.9,152.5Z"/><path fill="#0f509b" d="M210.9,135.5 206.9,135.7 204.8,134.5 200.9,122.0 200.6,115.5 201.5,109.5 204.2,101.0 206.4,96.5 206.4,95.5 205.6,94.5 195.9,88.3 193.9,88.1 191.9,90.8 187.9,101.4 186.4,102.8 185.4,92.0 183.4,86.3 182.4,85.3 166.7,90.0 151.9,93.5 151.9,38.0 246.6,38.0 247.9,53.0 248.9,55.1 251.9,57.7 252.0,59.5 248.9,64.5 245.4,74.5 241.9,82.5 239.4,86.4 229.4,96.1 227.4,96.9 219.9,97.8 217.4,98.9 216.0,100.5 215.3,103.0 215.3,106.0 219.2,117.5 220.1,122.0 220.0,125.5 218.7,130.5 217.4,133.0 215.1,134.5 210.9,135.5ZM274.4,150.6 272.9,150.7 271.9,149.0 272.4,147.3 273.9,146.4 274.9,146.6 275.4,147.5 274.4,150.6ZM235.4,169.1 231.9,169.5 229.4,169.0 228.0,167.5 228.0,165.0 236.4,149.2 238.4,147.5 240.9,147.4 244.9,149.3 248.8,153.0 249.6,156.0 249.0,160.5 247.9,163.0 245.9,164.9 240.4,167.5 235.4,169.1Z"/><path fill="#0b3676" d="M154.4,91.0 151.9,91.5 151.9,38.0 244.5,38.0 245.3,52.5 244.7,54.0 242.5,56.0 242.2,57.0 244.5,61.0 244.0,64.5 237.9,77.9 233.4,84.5 228.6,89.5 226.4,89.8 216.9,86.2 203.4,82.8 199.7,81.0 195.9,77.3 193.9,76.7 191.9,77.3 189.4,79.7 185.9,79.3 183.4,79.8 154.4,91.0ZM211.9,133.5 208.9,133.4 206.9,132.2 204.4,127.0 203.1,123.0 202.9,116.0 203.4,113.0 204.9,108.9 207.4,107.0 209.9,107.9 213.9,112.7 215.9,117.0 217.4,122.5 217.6,126.5 216.6,130.5 214.9,132.5 211.9,133.5ZM243.4,158.6 241.3,158.5 239.8,157.0 240.4,154.5 242.4,153.2 244.1,153.5 245.3,155.0 244.9,157.4 243.4,158.6Z"/></g><use href="#pt" x="153.9" fill="none" stroke="#6a6a6a" stroke-width="0.6"/><use href="#mk" x="153.9"/><use href="#pt" x="308.1" fill="#f3f8fe"/><g clip-path="url(#cp2)"><path fill="#e3eef9" d="M468.1,357.0 306.1,357.0 306.1,37.9 468.2,38.0 468.1,185.4 445.1,180.8 443.1,180.8 442.1,181.6 438.6,200.0 439.2,201.5 444.4,205.0 445.3,206.5 445.4,208.5 443.6,211.4 436.0,218.0 431.9,236.5 430.0,242.0 429.1,247.8 428.1,250.7 427.1,251.8 426.6,249.0 427.3,235.0 426.8,231.5 425.6,230.4 416.4,228.5 404.6,227.8 400.7,228.5 382.6,237.5 373.1,239.8 369.4,246.0 367.6,247.7 365.1,248.7 362.6,248.5 360.1,247.1 353.6,239.4 350.1,238.8 348.6,239.1 347.6,240.0 347.1,242.0 348.4,247.0 347.8,252.5 348.2,255.5 353.8,268.5 356.8,279.5 358.1,286.5 361.3,295.0 362.7,303.0 366.8,310.5 370.1,312.0 380.6,314.1 395.6,315.0 403.6,316.5 411.1,319.0 416.1,322.4 431.6,328.5 468.1,328.7 468.1,357.0ZM424.9,128.5 428.6,125.7 433.1,118.8 435.1,112.5 435.9,104.0 435.1,100.6 431.1,94.6 428.1,91.9 425.1,91.0 422.3,91.5 417.6,93.6 412.6,97.7 411.6,99.7 410.1,105.6 409.6,110.5 410.6,116.9 412.6,120.4 416.6,123.9 419.6,127.5 422.6,128.6 424.9,128.5ZM422.9,183.5 423.6,182.0 423.6,180.0 423.1,178.1 422.1,177.4 420.6,178.6 420.2,181.0 421.1,183.1 422.1,183.7 422.9,183.5Z"/><path fill="#d2e3f3" d="M397.6,357.0 306.1,357.0 306.1,37.9 468.2,38.0 468.1,183.4 443.6,178.3 438.1,178.3 437.0,179.0 435.6,181.4 430.1,194.7 428.6,195.9 427.1,191.2 425.3,176.0 423.8,173.0 422.1,172.5 418.6,176.5 417.7,179.5 418.2,182.5 420.9,189.0 422.4,221.0 422.3,223.5 421.6,225.1 419.1,225.6 409.1,223.8 402.1,221.7 394.2,221.0 389.1,220.9 370.6,222.2 367.4,223.0 366.3,224.0 368.8,229.5 369.3,234.0 368.1,238.5 365.6,241.5 363.6,242.0 361.6,241.5 359.6,240.3 358.1,238.6 356.8,234.5 357.4,227.0 356.6,225.8 352.6,226.6 349.5,228.5 344.1,236.0 342.6,239.5 342.3,253.5 343.1,258.0 347.1,270.5 347.2,273.0 346.3,277.5 346.8,281.5 348.1,283.5 352.6,286.4 355.1,289.0 357.3,292.5 358.7,297.0 359.1,301.0 358.7,305.0 357.7,308.5 355.3,313.0 355.5,314.0 386.6,317.2 395.1,318.6 400.6,320.5 404.5,322.5 408.0,325.5 410.2,328.5 410.7,332.5 409.1,336.0 405.3,339.5 398.6,343.1 396.8,345.5 396.3,348.5 397.9,356.0 398.0,357.0 397.6,357.0ZM423.8,131.0 426.4,130.0 428.9,128.0 431.9,124.5 433.9,121.0 436.2,113.5 437.5,101.5 436.8,99.5 434.0,95.5 429.9,91.0 426.1,89.0 421.6,88.7 418.6,89.2 415.6,90.5 412.6,93.0 410.0,96.0 408.9,98.5 407.6,104.5 407.0,112.0 407.6,116.1 409.2,120.5 416.6,130.0 419.1,131.4 423.8,131.0ZM437.1,213.1 434.6,213.2 433.5,211.0 434.0,205.5 434.9,204.0 436.1,203.4 440.6,204.6 442.1,205.7 442.8,207.0 442.6,208.5 441.6,209.9 437.1,213.1ZM328.4,299.0 329.0,297.5 328.6,295.5 327.6,294.4 326.1,294.6 324.6,296.0 324.5,298.0 326.6,299.3 328.4,299.0Z"/><path fill="#c3d9ef" d="M348.6,313.6 344.1,313.3 341.6,311.9 339.6,310.0 337.7,307.0 336.3,303.5 335.1,295.9 333.6,295.9 331.3,292.5 329.6,291.2 327.6,291.0 325.6,291.7 318.1,297.2 306.1,300.2 306.0,38.0 468.1,38.0 468.1,110.5 465.1,109.6 458.1,104.5 456.1,104.0 455.0,105.5 452.1,117.0 452.6,118.5 455.1,120.0 468.1,123.9 468.1,181.7 445.6,177.0 443.1,176.1 442.0,175.0 441.8,173.0 443.3,161.0 443.4,155.0 445.6,138.0 445.6,133.5 445.1,132.5 442.1,138.7 438.3,151.5 430.1,173.5 428.6,173.9 423.6,167.8 421.1,166.7 419.4,168.5 416.1,176.5 415.7,179.0 416.1,182.5 418.3,190.0 419.4,218.0 419.2,220.5 418.6,221.8 416.6,222.4 412.6,221.9 404.6,218.5 401.1,217.6 390.6,217.0 382.6,218.0 368.6,218.5 357.6,219.9 353.1,221.6 346.9,225.5 339.8,234.5 338.9,236.5 338.4,262.5 337.7,264.5 335.5,267.0 334.9,270.0 336.1,293.4 342.1,288.1 344.6,287.1 347.6,286.9 350.6,287.8 353.1,289.6 355.1,292.1 356.6,295.5 357.4,301.5 356.1,307.0 353.1,311.1 348.6,313.6ZM422.4,133.0 425.9,132.0 428.6,130.3 431.8,127.0 434.2,123.5 436.8,116.5 438.6,107.3 442.1,102.7 443.6,99.5 444.0,97.0 443.7,93.5 444.1,92.2 445.3,91.5 454.6,89.5 457.6,87.4 460.0,84.5 461.1,82.0 461.2,79.0 460.2,76.0 458.6,74.3 453.6,73.2 440.6,76.7 437.4,78.5 436.3,80.0 434.6,86.4 433.1,89.5 432.1,89.7 428.1,87.9 424.6,87.0 418.6,87.2 413.6,89.9 408.5,95.5 407.4,98.5 405.8,109.0 406.0,114.5 407.6,120.1 409.1,123.0 416.6,132.5 419.1,133.4 422.4,133.0ZM438.1,210.6 436.6,210.8 435.7,209.0 436.0,206.5 437.6,205.3 440.1,206.0 441.0,207.5 440.3,209.0 438.1,210.6ZM381.6,346.5 375.1,346.8 371.1,345.5 367.6,346.7 363.6,346.6 349.6,344.9 344.1,343.4 337.1,340.2 332.4,336.5 330.2,332.5 330.5,328.5 331.9,326.0 335.0,322.5 338.6,319.9 344.1,318.5 358.6,317.6 375.6,318.3 388.8,320.0 396.8,322.5 402.3,326.0 404.0,328.5 404.7,331.5 403.9,334.5 402.1,337.0 392.6,344.5 381.6,346.5ZM372.3,331.0 373.0,329.5 372.7,327.5 372.1,326.2 371.1,325.9 370.1,327.5 370.1,330.0 371.1,331.0 372.3,331.0Z"/><path fill="#a9cce6" d="M307.6,260.1 306.1,260.2 306.0,38.0 468.1,38.0 468.1,61.7 466.1,62.9 462.1,67.6 459.6,69.0 455.6,69.0 452.1,70.8 442.1,73.1 425.6,83.0 416.6,85.3 413.6,87.5 405.0,95.5 405.7,99.5 404.6,106.5 404.9,115.0 407.3,122.5 412.9,130.0 414.5,133.5 414.6,136.5 415.6,137.5 417.6,137.5 420.7,135.5 426.6,133.7 429.1,132.3 433.8,128.0 439.1,120.4 440.1,119.8 440.3,120.5 439.1,127.1 435.1,141.0 436.9,147.5 436.2,152.0 434.1,154.8 429.8,158.0 428.1,162.0 426.6,164.1 425.6,164.4 421.1,163.8 419.6,164.2 418.1,165.3 416.1,169.7 413.6,181.8 410.1,185.0 410.6,187.9 414.1,191.0 415.0,193.5 416.2,213.5 415.6,218.1 413.6,218.7 404.1,214.6 399.1,213.5 393.6,213.2 380.6,214.8 364.1,215.7 352.6,217.4 346.6,221.0 341.6,225.2 337.6,227.0 336.1,228.4 334.7,234.5 334.5,245.5 332.3,251.5 330.0,255.0 324.1,259.1 320.6,257.6 318.6,257.4 307.6,260.1ZM468.1,161.9 449.1,159.8 447.6,159.3 446.2,157.5 445.9,154.5 447.0,147.5 449.0,141.0 451.4,126.5 452.6,124.8 454.1,124.8 468.1,128.7 468.1,161.9ZM348.1,311.0 345.1,310.7 342.1,308.8 340.0,305.5 338.9,301.0 339.3,296.5 340.8,293.0 343.6,290.3 346.6,289.3 349.6,289.9 352.3,292.0 354.1,295.0 355.2,299.5 354.9,303.5 353.6,307.0 351.1,309.7 348.1,311.0ZM366.1,343.6 360.6,343.3 352.9,342.0 348.1,340.6 343.4,338.5 339.9,336.0 338.0,333.5 337.3,330.5 338.2,327.5 341.6,324.2 347.1,322.0 357.6,320.7 366.6,321.2 367.3,323.0 366.5,333.0 367.5,341.0 367.1,342.9 366.1,343.6ZM380.1,343.5 376.1,343.7 374.7,342.0 376.0,332.5 376.1,322.9 378.6,322.6 388.6,324.3 392.8,326.0 396.1,328.5 397.4,330.5 397.6,333.0 396.5,335.5 394.3,338.0 388.8,341.5 380.1,343.5Z"/><path fill="#8cbfe0" d="M307.6,256.6 306.1,256.7 306.0,38.0 468.1,38.0 468.1,55.0 465.6,56.2 450.6,68.4 440.1,71.3 429.1,77.4 420.1,79.2 413.6,81.7 412.0,83.0 408.6,87.8 403.8,92.5 401.8,96.0 403.1,101.0 402.4,105.0 402.8,112.5 406.3,123.0 410.6,127.9 412.0,130.5 412.2,132.5 411.1,134.5 411.7,136.5 414.6,139.4 417.1,140.4 419.6,139.9 423.4,137.0 426.4,137.0 434.1,143.8 435.4,146.0 435.9,148.0 435.4,151.5 433.1,154.3 427.4,156.5 424.1,160.4 419.6,160.8 417.1,162.6 414.6,168.0 412.6,179.6 411.6,180.9 409.1,182.1 407.8,183.5 407.8,186.0 408.8,190.5 411.6,196.4 412.6,200.2 413.5,209.5 412.8,213.5 412.1,214.1 410.6,214.0 400.6,211.2 392.1,210.5 380.6,212.5 362.6,213.7 353.6,214.7 350.1,215.6 341.6,220.5 335.1,222.3 332.9,224.0 332.0,227.0 330.3,241.5 326.1,249.5 319.7,254.0 307.6,256.6ZM468.1,157.6 449.9,155.5 449.1,155.0 448.8,154.0 449.6,148.5 450.4,147.5 451.6,147.2 468.1,149.8 468.1,157.6ZM346.1,306.7 344.6,306.5 343.1,305.4 342.0,303.5 341.4,301.0 342.2,296.5 343.6,294.7 345.1,294.1 346.7,295.0 347.5,298.5 347.7,304.5 347.1,306.0 346.1,306.7ZM359.6,337.6 355.6,337.6 350.3,335.0 347.8,332.0 347.6,330.5 348.1,329.0 350.1,327.6 352.6,327.4 359.1,329.6 360.7,331.5 361.3,334.0 361.0,336.5 359.6,337.6Z"/><path fill="#6caed8" d="M345.1,212.0 338.6,212.4 327.1,211.7 322.5,208.5 317.6,207.2 306.1,202.2 306.1,38.0 468.1,38.0 468.1,52.8 465.4,54.0 448.1,66.5 440.1,68.6 430.1,72.3 418.1,75.0 410.1,78.6 406.6,82.1 398.7,96.5 398.3,99.5 399.0,110.5 399.9,113.5 403.0,119.5 403.3,125.0 404.6,126.8 408.0,128.0 408.8,129.0 408.6,129.8 406.1,130.8 404.8,132.0 404.5,133.5 404.9,135.0 409.6,137.9 415.1,142.3 418.1,143.8 423.1,144.3 427.6,142.7 431.1,142.8 434.1,145.4 435.1,148.5 434.4,151.5 432.1,153.9 427.6,155.0 422.6,153.5 416.0,160.5 413.4,166.0 410.9,176.5 409.6,177.9 405.4,180.0 403.8,181.5 403.6,182.5 405.3,186.0 405.8,189.0 405.6,193.0 404.7,195.0 396.1,201.8 390.6,202.1 377.2,207.0 368.6,208.0 359.6,210.1 345.1,212.0Z"/><path fill="#5a9fd2" d="M345.6,207.0 341.6,207.1 338.1,206.2 335.1,204.5 334.0,202.5 334.6,200.5 341.9,186.5 343.6,184.0 346.4,181.5 347.1,180.0 349.2,161.0 348.1,152.5 348.2,146.0 347.1,142.5 346.6,141.5 345.6,141.0 344.1,142.8 332.1,172.5 329.6,177.4 328.1,178.7 327.3,177.0 327.1,171.5 328.6,152.5 330.5,138.0 329.9,133.0 328.1,131.0 320.6,127.6 306.1,125.3 306.1,38.0 468.1,38.0 468.1,51.3 465.1,52.4 454.6,60.1 446.6,63.6 423.1,68.9 414.1,72.0 407.6,77.4 405.3,80.0 402.0,85.5 399.5,91.5 395.8,97.0 394.9,101.0 396.5,106.5 397.2,114.5 399.7,121.5 401.0,129.0 400.9,134.0 401.5,137.5 403.1,139.1 409.6,141.4 416.5,147.5 417.6,149.5 417.0,152.0 412.7,161.0 408.6,172.7 407.1,174.3 401.6,177.8 398.4,181.5 398.2,184.0 400.7,186.5 401.0,188.0 399.1,189.5 391.6,193.2 378.6,197.9 369.1,199.8 355.9,205.5 345.6,207.0ZM430.6,153.5 428.1,154.0 426.6,153.6 424.6,152.0 423.6,150.0 423.5,148.0 424.4,146.0 426.1,144.5 428.1,143.7 430.1,143.5 431.6,144.2 433.1,145.6 434.0,147.5 433.5,151.0 432.4,152.5 430.6,153.5Z"/><path fill="#4590ca" d="M333.6,149.6 333.1,149.5 332.7,147.0 332.9,130.5 331.6,128.4 327.9,126.5 326.8,125.0 327.6,123.9 331.6,121.5 332.5,120.0 333.6,113.5 333.1,111.0 330.6,110.7 306.1,114.5 306.1,38.0 468.1,38.0 468.1,48.7 464.1,50.2 454.0,57.5 446.2,60.0 437.1,59.4 424.1,61.8 416.6,65.2 412.1,68.5 403.2,79.5 399.9,85.0 397.6,90.8 390.2,101.0 389.6,104.5 391.5,109.5 390.7,111.5 387.8,115.5 387.2,117.5 389.6,122.5 389.6,124.4 382.6,127.6 376.1,136.5 374.1,137.5 367.1,139.2 361.1,143.2 358.6,143.1 355.1,141.5 353.7,140.0 353.1,138.5 349.3,117.5 348.6,115.7 348.1,115.6 346.1,119.0 337.1,143.3 333.6,149.6ZM383.6,187.6 376.6,187.9 367.1,186.1 359.6,183.2 357.1,181.5 355.4,178.5 354.6,175.0 355.6,158.4 356.2,157.0 357.6,156.3 368.6,156.5 372.1,155.7 375.6,154.2 379.6,150.8 383.9,145.0 389.1,141.3 394.1,135.3 396.1,134.2 397.1,135.4 399.1,141.3 404.6,144.0 405.9,145.5 410.4,153.5 410.3,157.5 407.3,167.0 405.6,170.1 395.5,179.0 391.1,184.2 383.6,187.6ZM429.6,152.6 428.1,152.9 426.6,152.3 425.3,151.0 424.7,149.0 425.9,146.0 429.1,144.6 431.4,145.5 432.4,148.0 431.6,150.8 429.6,152.6ZM346.1,202.1 343.1,201.8 341.6,200.0 342.4,195.0 344.6,190.3 346.6,188.0 348.6,187.0 352.1,187.0 355.1,187.9 357.6,191.0 357.7,192.5 356.8,194.5 352.1,200.1 349.6,201.3 346.1,202.1Z"/><path fill="#2f7cc1" d="M360.6,139.2 357.6,138.8 355.8,136.5 352.6,122.5 352.0,107.0 351.3,104.5 350.1,103.1 348.6,103.1 346.9,105.5 340.1,125.0 338.1,129.6 336.6,131.6 335.6,130.8 333.5,126.0 335.4,120.0 336.3,110.5 335.4,107.5 331.7,102.5 331.5,99.0 329.1,98.5 306.1,100.7 306.1,38.0 421.3,38.0 422.4,50.5 424.0,55.0 423.8,56.0 422.8,57.0 412.6,62.1 410.2,64.0 407.1,71.0 399.3,83.0 396.1,90.0 387.3,100.0 385.9,103.0 383.6,110.6 379.0,114.5 378.1,124.0 374.3,134.5 372.1,136.0 360.6,139.2ZM378.6,180.1 376.1,180.2 372.6,179.5 366.7,177.0 363.6,175.0 362.1,171.9 362.1,164.0 364.1,162.5 372.6,161.8 376.6,160.2 382.5,154.0 387.0,146.5 393.1,141.4 395.1,141.0 397.6,143.7 402.3,146.5 407.3,153.5 407.7,157.5 405.4,165.5 403.1,168.8 394.1,175.9 391.1,177.1 383.6,178.3 378.6,180.1ZM428.6,150.7 427.1,150.6 426.3,149.0 427.1,147.0 428.6,146.4 429.7,147.5 428.6,150.7ZM348.1,197.0 346.1,197.0 345.8,195.5 347.1,192.6 349.2,191.5 350.1,192.2 350.1,193.5 349.1,196.0 348.1,197.0Z"/><path fill="#1d65b0" d="M363.1,135.5 360.1,135.2 358.7,134.0 355.0,122.0 354.7,115.5 355.6,108.8 359.9,94.0 359.0,89.5 356.7,86.5 351.1,83.7 348.6,83.7 347.6,85.4 343.1,99.8 341.6,103.1 340.6,104.0 340.0,102.5 339.4,92.0 338.1,88.5 336.1,86.5 306.1,93.6 306.1,38.0 400.9,38.0 402.2,53.0 403.3,55.0 406.5,57.5 406.6,59.5 403.3,64.5 400.1,73.9 396.1,82.8 393.7,86.5 383.6,96.4 381.6,97.2 374.6,98.3 372.6,99.4 371.1,101.2 370.1,104.0 370.1,106.5 373.1,114.3 374.6,120.0 374.9,123.5 374.4,127.0 372.9,131.5 371.1,133.8 368.1,134.9 363.1,135.5ZM390.1,170.1 386.1,170.5 383.1,169.9 381.4,168.5 381.1,166.0 382.4,162.5 386.1,156.8 390.1,149.0 392.1,147.2 394.6,146.8 398.6,148.6 403.0,152.5 404.1,155.5 403.8,159.5 402.6,163.1 400.6,165.5 395.6,168.4 390.1,170.1Z"/><path fill="#0f509b" d="M306.6,91.0 306.1,91.1 306.1,38.0 398.3,38.0 399.1,52.0 398.4,53.5 395.1,55.3 394.5,56.5 397.6,61.3 397.2,65.0 392.1,75.8 386.3,84.0 382.3,88.0 379.6,88.1 370.6,83.4 356.1,79.6 347.7,75.0 344.6,70.9 342.1,69.9 341.1,70.3 340.1,71.8 340.0,73.5 340.9,76.5 340.5,77.5 339.3,78.5 314.4,88.5 306.6,91.0ZM367.6,132.6 364.6,132.7 362.6,131.8 359.0,125.0 358.5,122.0 359.1,115.3 360.0,113.0 361.1,112.1 363.1,112.6 366.6,115.5 369.6,119.1 371.1,122.3 371.6,125.5 371.1,129.0 369.7,131.5 367.6,132.6ZM397.6,158.1 395.6,158.0 394.6,157.0 395.0,155.0 396.6,153.7 398.2,154.0 399.1,155.5 398.8,157.0 397.6,158.1Z"/><path fill="#0b3676" d="M374.6,75.6 371.1,76.0 364.6,75.2 360.6,74.1 357.1,72.5 351.1,68.5 347.9,57.5 345.1,53.7 343.6,53.1 341.6,53.4 337.1,57.8 335.1,58.0 309.6,45.3 306.1,44.2 306.1,38.0 389.2,38.0 384.9,51.0 380.9,55.5 381.4,57.0 386.3,64.0 386.8,66.0 386.4,68.0 385.0,70.5 382.6,72.7 374.6,75.6ZM366.1,127.4 364.5,126.5 364.6,124.9 366.1,125.5 366.5,126.5 366.1,127.4Z"/></g><use href="#pt" x="308.1" fill="none" stroke="#6a6a6a" stroke-width="0.6"/><use href="#mk" x="308.1"/></g></svg>
<div class="t" style="left:9px;top:2px;transform:scaleX(0.975)">a) Global period - 1913/1914</div>
<div class="t" style="left:22px;top:14.5px;transform:scaleX(0.9875)">to 2018/2019 (961 mm)</div>
<div class="t" style="left:162.7px;top:2px;transform:scaleX(0.978)">b) Initial sub period - 1913/1914</div>
<div class="t" style="left:176.8px;top:14.5px;transform:scaleX(0.982)">to 1967/1968 (1041 mm)</div>
<div class="t" style="left:320.5px;top:2px;transform:scaleX(0.975)">c) Final sub period - 1968/1969</div>
<div class="t" style="left:333.8px;top:14.5px;transform:scaleX(0.986)">to 2018/2019 (874 mm)</div>
<div class="t" style="left:484.5px;top:57px">Rainfall</div>
<div class="t" style="left:478.5px;top:69.5px">(mm/year)</div>
<div class="lg" style="top:92.10px;background:#f3f8fe"></div>
<div class="ll" style="top:93.10px">&lt; 400</div>
<div class="lg" style="top:110.17px;background:#e3eef9"></div>
<div class="ll" style="top:111.17px">400 - 500</div>
<div class="lg" style="top:128.24px;background:#d2e3f3"></div>
<div class="ll" style="top:129.24px">400 - 600</div>
<div class="lg" style="top:146.31px;background:#c3d9ef"></div>
<div class="ll" style="top:147.31px">600 - 700</div>
<div class="lg" style="top:164.38px;background:#a9cce6"></div>
<div class="ll" style="top:165.38px">700 - 800</div>
<div class="lg" style="top:182.45px;background:#8cbfe0"></div>
<div class="ll" style="top:183.45px">800 - 1000</div>
<div class="lg" style="top:200.52px;background:#6caed8"></div>
<div class="ll" style="top:201.52px">1000 - 1200</div>
<div class="lg" style="top:218.59px;background:#5a9fd2"></div>
<div class="ll" style="top:219.59px">1200 - 1400</div>
<div class="lg" style="top:236.66px;background:#4590ca"></div>
<div class="ll" style="top:237.66px">1400 - 1600</div>
<div class="lg" style="top:254.73px;background:#2f7cc1"></div>
<div class="ll" style="top:255.73px">1600 - 2000</div>
<div class="lg" style="top:272.80px;background:#1d65b0"></div>
<div class="ll" style="top:273.80px">2000 - 2400</div>
<div class="lg" style="top:290.87px;background:#0f509b"></div>
<div class="ll" style="top:291.87px">2400 - 2800</div>
<div class="lg" style="top:308.94px;background:#0b3676"></div>
<div class="ll" style="top:309.94px">&gt; 2800</div>
<div style="position:absolute;left:443.4px;top:353.4px;width:81.5px;height:10.5px;border:1px solid #222;box-sizing:border-box;background:#fff"></div>
<div style="position:absolute;left:443.4px;top:353.4px;width:40.7px;height:10.5px;background:#000"></div>
<div class="sb" style="left:441px;top:341.5px">0</div>
<div class="sb" style="left:478.6px;top:341.5px">75</div>
<div class="sb" style="left:515.8px;top:341.5px">150km</div>
</body></html>
